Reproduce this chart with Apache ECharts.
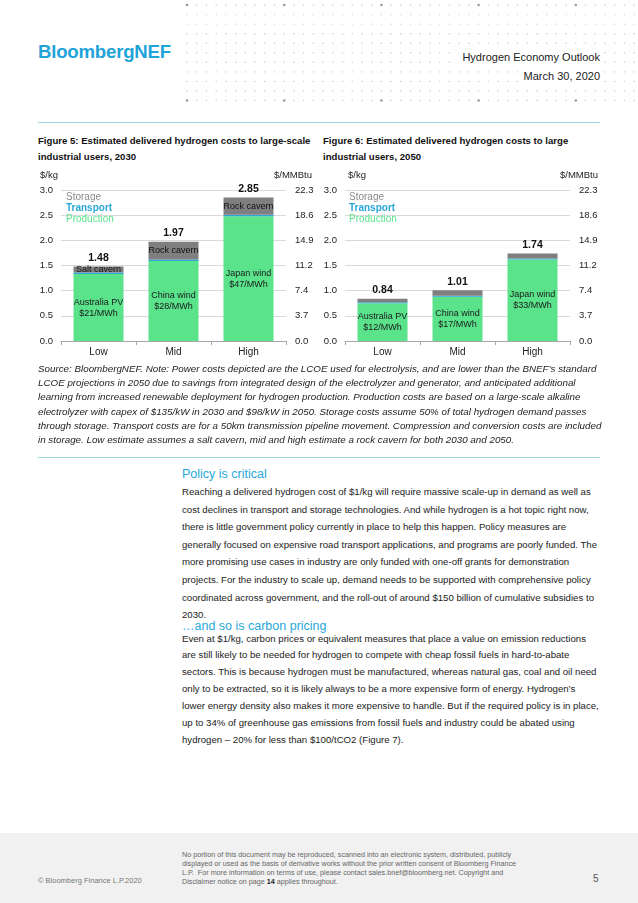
<!DOCTYPE html>
<html>
<head>
<meta charset="utf-8">
<script src="https://cdn.jsdelivr.net/npm/echarts@6/dist/echarts.min.js"></script>
<style>
  html, body { margin:0; padding:0; background:#fff; }
  body { width:638px; height:903px; position:relative; overflow:hidden; font-family:"Liberation Sans", Arial, sans-serif; color:#222; }
  .abs { position:absolute; white-space:nowrap; }
  #dots { position:absolute; left:0; top:0; }
  .logo { left:38px; top:40px; font-size:18.6px; font-weight:bold; color:#1fa3d9; line-height:24px; letter-spacing:-0.2px; }
  .hdr { right:38px; font-size:11px; line-height:14px; color:#222; text-align:right; background:#fff; padding-left:3px; }
  .rule { position:absolute; left:38px; width:562px; height:1px; background:#9fd6e4; }
  .ftitle { font-size:9.6px; font-weight:bold; line-height:16px; color:#111; }
  .note { left:38px; top:362px; font-size:9.8px; font-style:italic; line-height:14.2px; color:#222; }
  .h2 { left:182px; font-size:12.5px; color:#27a8d9; line-height:16px; }
  .para { left:182px; font-size:9.65px; color:#222; }
  #footer { position:absolute; left:0; top:833px; width:638px; height:70px; background:#f1f1f1; }
  .disc { left:182px; top:850px; font-size:7.2px; line-height:9px; color:#666; }
  .copy { left:38px; top:876px; font-size:7.5px; color:#777; }
  .pg { left:593px; top:873px; font-size:10px; color:#555; }
  .chart { position:absolute; }
</style>
</head>
<body>
<svg id="dots" width="638" height="110"></svg>
<div class="abs logo">BloombergNEF</div>
<div class="abs hdr" style="top:50px;">Hydrogen Economy Outlook</div>
<div class="abs hdr" style="top:69px;">March 30, 2020</div>
<div class="rule" style="top:122px;"></div>

<div class="abs ftitle" style="left:38px; top:133px;">Figure 5: Estimated delivered hydrogen costs to large-scale<br>industrial users, 2030</div>
<div class="abs ftitle" style="left:323px; top:133px;">Figure 6: Estimated delivered hydrogen costs to large<br>industrial users, 2050</div>

<div id="c1" class="chart" style="left:0px; top:160px; width:320px; height:210px;"></div>
<div id="c2" class="chart" style="left:320px; top:160px; width:318px; height:210px;"></div>

<div class="abs note">Source: BloombergNEF. Note: Power costs depicted are the LCOE used for electrolysis, and are lower than the BNEF’s standard<br>LCOE projections in 2050 due to savings from integrated design of the electrolyzer and generator, and anticipated additional<br>learning from increased renewable deployment for hydrogen production. Production costs are based on a large-scale alkaline<br>electrolyzer with capex of $135/kW in 2030 and $98/kW in 2050. Storage costs assume 50% of total hydrogen demand passes<br>through storage. Transport costs are for a 50km transmission pipeline movement. Compression and conversion costs are included<br>in storage. Low estimate assumes a salt cavern, mid and high estimate a rock cavern for both 2030 and 2050.</div>
<div class="rule" style="top:457px;"></div>

<div class="abs h2" style="top:466px;">Policy is critical</div>
<div class="abs para" style="top:483px; line-height:17.6px;">Reaching a delivered hydrogen cost of $1/kg will require massive scale-up in demand as well as<br>cost declines in transport and storage technologies. And while hydrogen is a hot topic right now,<br>there is little government policy currently in place to help this happen. Policy measures are<br>generally focused on expensive road transport applications, and programs are poorly funded. The<br>more promising use cases in industry are only funded with one-off grants for demonstration<br>projects. For the industry to scale up, demand needs to be supported with comprehensive policy<br>coordinated across government, and the roll-out of around $150 billion of cumulative subsidies to<br>2030.</div>

<div class="abs h2" style="top:618px;">…and so is carbon pricing</div>
<div class="abs para" style="top:630.5px; line-height:16.9px;">Even at $1/kg, carbon prices or equivalent measures that place a value on emission reductions<br>are still likely to be needed for hydrogen to compete with cheap fossil fuels in hard-to-abate<br>sectors. This is because hydrogen must be manufactured, whereas natural gas, coal and oil need<br>only to be extracted, so it is likely always to be a more expensive form of energy. Hydrogen’s<br>lower energy density also makes it more expensive to handle. But if the required policy is in place,<br>up to 34% of greenhouse gas emissions from fossil fuels and industry could be abated using<br>hydrogen – 20% for less than $100/tCO2 (Figure 7).</div>

<div id="footer"></div>
<div class="abs disc">No portion of this document may be reproduced, scanned into an electronic system, distributed, publicly<br>displayed or used as the basis of derivative works without the prior written consent of Bloomberg Finance<br>L.P.&nbsp; For more information on terms of use, please contact sales.bnef@bloomberg.net. Copyright and<br>Disclaimer notice on page <b style="color:#222">14</b> applies throughout.</div>
<div class="abs copy">© Bloomberg Finance L.P.2020</div>
<div class="abs pg">5</div>

<script>
// ---------- data ----------
var categories = ['Low', 'Mid', 'High'];
var leftTicks = ['0.0', '0.5', '1.0', '1.5', '2.0', '2.5', '3.0'];
var rightTicks = ['0.0', '3.7', '7.4', '11.2', '14.9', '18.6', '22.3'];

var production2030 = [1.33, 1.59, 2.48];
var transport2030  = [0.03, 0.03, 0.03];
var storage2030    = [0.12, 0.35, 0.34];
var totals2030     = ['1.48', '1.97', '2.85'];
var prodLabels2030 = ['Australia PV\n$21/MWh', 'China wind\n$28/MWh', 'Japan wind\n$47/MWh'];
var storLabels2030 = ['Salt cavern', 'Rock cavern', 'Rock cavern'];

var production2050 = [0.75, 0.88, 1.62];
var transport2050  = [0.02, 0.02, 0.02];
var storage2050    = [0.07, 0.11, 0.10];
var totals2050     = ['0.84', '1.01', '1.74'];
var prodLabels2050 = ['Australia PV\n$12/MWh', 'China wind\n$17/MWh', 'Japan wind\n$33/MWh'];
var storLabels2050 = ['', '', ''];

// ---------- header dot grid (decoration) ----------
(function(){
  var svg = document.getElementById('dots'), html = '';
  for (var i = 0; ; i++) {
    var x = 187 + i * 9.72; if (x > 638) break;
    for (var j = 0; j <= 10; j++) {
      var y = 5 + j * 9.55;
      var big = (i % 10 === 0) && (j === 0 || j === 10);
      html += '<circle cx="' + x.toFixed(1) + '" cy="' + y.toFixed(1) + '" r="' + (big ? 1.3 : 0.7) + '" fill="' + (big ? '#9a9a9a' : '#c6c6c6') + '"/>';
    }
  }
  svg.innerHTML = html;
})();

var FONT = '"Liberation Sans", Arial, sans-serif';
var GREEN = '#5be38c', BLUE = '#2aa6d8', GRAY = '#7f7f7f';

function makeOption(cfg) {
  return {
    animation: false,
    textStyle: { fontFamily: FONT },
    grid: { left: cfg.gridLeft, top: 30, width: 225, height: 151 },
    legend: {
      orient: 'vertical', left: cfg.legendLeft, top: 32, padding: 0,
      itemGap: 0, itemWidth: 0, itemHeight: 11, icon: 'none', selectedMode: false,
      data: [
        { name: 'Storage', textStyle: { color: '#8a8a8a' } },
        { name: 'Transport', textStyle: { color: BLUE, fontWeight: 'bold' } },
        { name: 'Production', textStyle: { color: GREEN } }
      ],
      textStyle: { fontSize: 10, fontFamily: FONT, lineHeight: 11, padding: 0 }
    },
    graphic: [
      { type: 'text', left: cfg.kgX, top: 10, style: { text: '$/kg', fontSize: 9.5, fill: '#222', fontFamily: FONT } },
      { type: 'text', right: cfg.mmRight, top: 10, style: { text: '$/MMBtu', fontSize: 9.5, fill: '#222', fontFamily: FONT } }
    ],
    xAxis: {
      type: 'category', data: categories,
      axisLine: { lineStyle: { color: '#a6a6a6' } },
      axisTick: { show: true, length: 4, lineStyle: { color: '#a6a6a6' } },
      axisLabel: { fontSize: 10, color: '#222', margin: 6, fontFamily: FONT }
    },
    yAxis: [
      {
        type: 'value', min: 0, max: 3, interval: 0.5,
        axisLine: { show: false }, axisTick: { show: false },
        axisLabel: { fontSize: 9.5, color: '#222', margin: 8, fontFamily: FONT,
          formatter: function (v) { return leftTicks[Math.round(v / 0.5)]; } },
        splitLine: { lineStyle: { color: '#d9d9d9' } }
      },
      {
        type: 'value', min: 0, max: 3, interval: 0.5, position: 'right',
        axisLine: { show: false }, axisTick: { show: false }, splitLine: { show: false },
        axisLabel: { fontSize: 9.5, color: '#222', margin: 9, fontFamily: FONT,
          formatter: function (v) { return rightTicks[Math.round(v / 0.5)]; } }
      }
    ],
    series: [
      {
        name: 'Production', type: 'bar', stack: 'h2', barWidth: 50, data: cfg.prod,
        itemStyle: { color: GREEN },
        label: { show: true, position: 'inside', fontSize: 9, lineHeight: 11, color: '#1a1a1a', fontFamily: FONT,
          formatter: function (p) { return cfg.prodLabels[p.dataIndex]; } }
      },
      {
        name: 'Transport', type: 'bar', stack: 'h2', barWidth: 50, data: cfg.trans,
        itemStyle: { color: BLUE }
      },
      {
        name: 'Storage', type: 'bar', stack: 'h2', barWidth: 50, data: cfg.stor,
        itemStyle: { color: GRAY },
        label: { show: true, position: 'inside', fontSize: 9, color: '#111', fontFamily: FONT,
          formatter: function (p) { return cfg.storLabels[p.dataIndex]; } }
      },
      {
        name: 'Total', type: 'bar', stack: 'h2', barWidth: 50, data: [0, 0, 0],
        itemStyle: { color: 'transparent' },
        label: { show: true, position: 'top', distance: 3, fontSize: 10.5, fontWeight: 'bold', color: '#111', fontFamily: FONT,
          formatter: function (p) { return cfg.totals[p.dataIndex]; } }
      }
    ]
  };
}

var c1 = echarts.init(document.getElementById('c1'), null, { renderer: 'canvas' });
c1.setOption(makeOption({
  gridLeft: 61, legendLeft: 61, kgX: 40, mmRight: 8,
  prod: production2030, trans: transport2030, stor: storage2030, totals: totals2030,
  prodLabels: prodLabels2030, storLabels: storLabels2030
}));

var c2 = echarts.init(document.getElementById('c2'), null, { renderer: 'canvas' });
c2.setOption(makeOption({
  gridLeft: 25, legendLeft: 24, kgX: 28, mmRight: 40,
  prod: production2050, trans: transport2050, stor: storage2050, totals: totals2050,
  prodLabels: prodLabels2050, storLabels: storLabels2050
}));
</script>
</body>
</html>
